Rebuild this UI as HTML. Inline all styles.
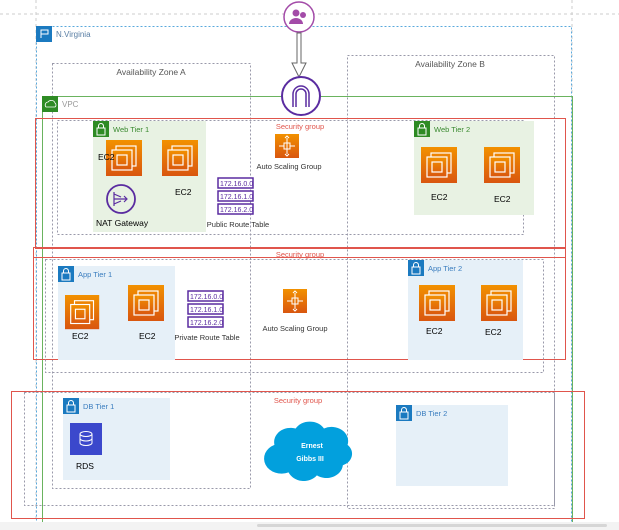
<!DOCTYPE html>
<html><head><style>body{margin:0;background:#fff;overflow:hidden}svg{display:block;font-family:"Liberation Sans",sans-serif}</style></head><body>
<svg width="619" height="530" viewBox="0 0 619 530" xmlns="http://www.w3.org/2000/svg">
<defs>
<linearGradient id="og" x1="0" y1="0" x2="0" y2="1"><stop offset="0" stop-color="#f29100"/><stop offset="1" stop-color="#d9560f"/></linearGradient>
<g id="ec2"><rect width="36" height="36" fill="url(#og)"/><rect x="10" y="6" width="20" height="20" fill="none" stroke="#fff" stroke-width="1.2"/><rect x="6" y="10" width="20" height="20" fill="url(#og)" stroke="#fff" stroke-width="1.2"/><rect x="11" y="15" width="10" height="10" fill="none" stroke="#fff" stroke-width="1.2"/></g>
<g id="lockg"><rect width="16" height="16" fill="#2e8b24"/><rect x="4" y="7" width="8" height="7" fill="none" stroke="#fff"/><path d="M5.5 7V5a2.5 2.5 0 0 1 5 0v2" fill="none" stroke="#fff"/></g>
<g id="lockb"><rect width="16" height="16" fill="#1b7ac0"/><rect x="4" y="7" width="8" height="7" fill="none" stroke="#fff"/><path d="M5.5 7V5a2.5 2.5 0 0 1 5 0v2" fill="none" stroke="#fff"/></g>
<g id="asg"><rect width="24" height="24" fill="url(#og)"/><path d="M12 4v16M4 12h5M15 12h5M10 4l2-2 2 2M10 20l2 2 2-2" fill="none" stroke="#fff"/><rect x="9" y="9" width="6" height="6" fill="none" stroke="#fff"/></g>
<g id="rt" font-size="7" fill="#5a2ca0"><rect x="0" y="0" width="35" height="10" fill="#fff" stroke="#5a2ca0" stroke-width="1.5"/><rect x="0" y="13" width="35" height="10" fill="#fff" stroke="#5a2ca0" stroke-width="1.5"/><rect x="0" y="26" width="35" height="10" fill="#fff" stroke="#5a2ca0" stroke-width="1.5"/><text x="2" y="8">172.16.0.0</text><text x="2" y="21">172.16.1.0</text><text x="2" y="34">172.16.2.0</text></g>
</defs>
<line x1="0" y1="14" x2="619" y2="14" stroke="#ccc" stroke-dasharray="3,3"/>
<line x1="36" y1="0" x2="36" y2="530" stroke="#ccc" stroke-dasharray="3,3"/>
<line x1="572" y1="0" x2="572" y2="530" stroke="#ccc" stroke-dasharray="3,3"/>
<rect x="36.5" y="26.5" width="535" height="500" fill="none" stroke="#5aa9dc" stroke-dasharray="2,2"/>
<rect x="36" y="26" width="16" height="16" fill="#1b7ac0"/><path d="M41 38V30h7v4h-7" fill="none" stroke="#fff"/>
<text x="56" y="37" font-size="8" fill="#5a7fa5">N.Virginia</text>
<rect x="52.5" y="63.5" width="198" height="425" fill="none" stroke="#99a" stroke-dasharray="2,2"/>
<text x="151" y="75" font-size="8.5" fill="#555" text-anchor="middle">Availability Zone A</text>
<rect x="347.5" y="55.5" width="207" height="453" fill="none" stroke="#99a" stroke-dasharray="2,2"/>
<text x="450" y="67" font-size="8.5" fill="#555" text-anchor="middle">Availability Zone B</text>
<path d="M42.5 530V96.5H572.5V530" fill="none" stroke="#6ab35e"/>
<rect x="42" y="96" width="16" height="16" fill="#2e8b24"/><path d="M46 107a3 3 0 0 1 2-5a4 4 0 0 1 7 1a2.5 2.5 0 0 1 0 4z" fill="none" stroke="#fff" stroke-width="0.8"/>
<text x="62" y="107" font-size="8" fill="#999">VPC</text>
<rect x="35.5" y="118.5" width="530" height="130" fill="none" stroke="#e0554c"/>
<rect x="57.5" y="120.5" width="466" height="114" fill="none" stroke="#99a" stroke-dasharray="2,2"/>
<rect x="93" y="121" width="113" height="111" fill="#e8f2e3"/>
<use href="#lockg" x="93" y="121"/><text x="113" y="132" font-size="7.5" fill="#3a8a30">Web Tier 1</text>
<rect x="414" y="121" width="120" height="94" fill="#e8f2e3"/>
<use href="#lockg" x="414" y="121"/><text x="434" y="132" font-size="7.5" fill="#3a8a30">Web Tier 2</text>
<text x="300" y="129" font-size="7.5" fill="#e0554c" text-anchor="middle">Security group</text>
<use href="#ec2" x="106" y="140"/><use href="#ec2" x="162" y="140"/>
<text x="98" y="160" font-size="8.5">EC2</text><text x="175" y="195" font-size="8.5">EC2</text>
<use href="#ec2" x="421" y="147"/><use href="#ec2" x="484" y="147"/>
<text x="431" y="200" font-size="8.5">EC2</text><text x="494" y="202" font-size="8.5">EC2</text>
<circle cx="121" cy="199" r="14" fill="none" stroke="#5a2ca0" stroke-width="1.8"/><path d="M114 192v14M114 194l7 3M114 204l7-3M114 199h12m-2-3l3 3-3 3" fill="none" stroke="#5a2ca0" stroke-width="1.2"/>
<text x="96" y="226" font-size="8.5">NAT Gateway</text>
<use href="#asg" x="275" y="134"/><text x="289" y="169" font-size="7.5" fill="#333" text-anchor="middle">Auto Scaling Group</text>
<use href="#rt" x="218" y="178"/><text x="238" y="227" font-size="7.5" fill="#333" text-anchor="middle">Public Route Table</text>
<rect x="33.5" y="247.5" width="532" height="112" fill="none" stroke="#e0554c"/>
<line x1="33" y1="257.5" x2="566" y2="257.5" stroke="#e0554c"/>
<text x="300" y="257" font-size="7.5" fill="#e0554c" text-anchor="middle">Security group</text>
<rect x="45.5" y="259.5" width="498" height="113" fill="none" stroke="#99a" stroke-dasharray="2,2"/>
<rect x="58" y="266" width="117" height="94" fill="#e6f0f8"/>
<use href="#lockb" x="58" y="266"/><text x="78" y="277" font-size="7.5" fill="#3a7dbf">App Tier 1</text>
<rect x="408" y="260" width="115" height="100" fill="#e6f0f8"/>
<use href="#lockb" x="408" y="260"/><text x="428" y="271" font-size="7.5" fill="#3a7dbf">App Tier 2</text>
<use href="#ec2" transform="translate(65 295) scale(0.95)"/>
<use href="#ec2" x="128" y="285"/>
<text x="72" y="339" font-size="8.5">EC2</text><text x="139" y="339" font-size="8.5">EC2</text>
<use href="#ec2" x="419" y="285"/><use href="#ec2" x="481" y="285"/>
<text x="426" y="334" font-size="8.5">EC2</text><text x="485" y="335" font-size="8.5">EC2</text>
<use href="#rt" x="188" y="291"/><text x="207" y="340" font-size="7.5" fill="#333" text-anchor="middle">Private Route Table</text>
<use href="#asg" x="283" y="289"/><text x="295" y="331" font-size="7.5" fill="#333" text-anchor="middle">Auto Scaling Group</text>
<rect x="11.5" y="391.5" width="573" height="127" fill="none" stroke="#e0554c"/>
<rect x="24.5" y="392.5" width="530" height="113" fill="none" stroke="#99a" stroke-dasharray="2,2"/>
<text x="298" y="403" font-size="7.5" fill="#e0554c" text-anchor="middle">Security group</text>
<rect x="63" y="398" width="107" height="82" fill="#e6f0f8"/>
<use href="#lockb" x="63" y="398"/><text x="83" y="409" font-size="7.5" fill="#3a7dbf">DB Tier 1</text>
<rect x="396" y="405" width="112" height="81" fill="#e6f0f8"/>
<use href="#lockb" x="396" y="405"/><text x="416" y="416" font-size="7.5" fill="#3a7dbf">DB Tier 2</text>
<rect x="70" y="423" width="32" height="32" fill="#3b48cc"/><ellipse cx="86" cy="434" rx="6" ry="2.5" fill="none" stroke="#fff"/><path d="M80 434v9a6 2.5 0 0 0 12 0v-9M80 438.5a6 2.5 0 0 0 12 0" fill="none" stroke="#fff"/>
<text x="76" y="469" font-size="8.5">RDS</text>
<g transform="translate(311 454) scale(1.18 1.02) translate(-311 -454)">
<path d="M280 445a14 14 0 0 1 18-16a14 14 0 0 1 24 0a14 14 0 0 1 20 16a12 12 0 0 1-4 20a14 14 0 0 1-22 10a14 14 0 0 1-24-3a13 13 0 0 1-12-27z" fill="#02a0dd"/></g>
<text x="312" y="448" font-size="7" fill="#fff" font-weight="bold" text-anchor="middle">Ernest</text>
<text x="310" y="461" font-size="7" fill="#fff" font-weight="bold" text-anchor="middle">Gibbs III</text>
<circle cx="299" cy="17" r="15" fill="#fff" stroke="#a34ba8" stroke-width="1.5"/>
<circle cx="296" cy="13" r="3.5" fill="#a34ba8"/><path d="M289 24a7 6 0 0 1 14 0z" fill="#a34ba8"/><circle cx="303" cy="15" r="3" fill="#a34ba8"/>
<path d="M297 33h4v30h5l-7 14-7-14h5z" fill="#fff" stroke="#666"/>
<circle cx="301" cy="96" r="19" fill="#fff" stroke="#5a2ca0" stroke-width="2"/>
<path d="M293 107V94a8 8 0 0 1 16 0v13M296 107V94a5 5 0 0 1 10 0v13" fill="none" stroke="#5a2ca0" stroke-width="1.5"/>
<rect x="0" y="522" width="619" height="8" fill="#f3f3f3"/>
<rect x="257" y="524" width="350" height="3" rx="1.5" fill="#d6d6d6"/>
</svg>
</body></html>
